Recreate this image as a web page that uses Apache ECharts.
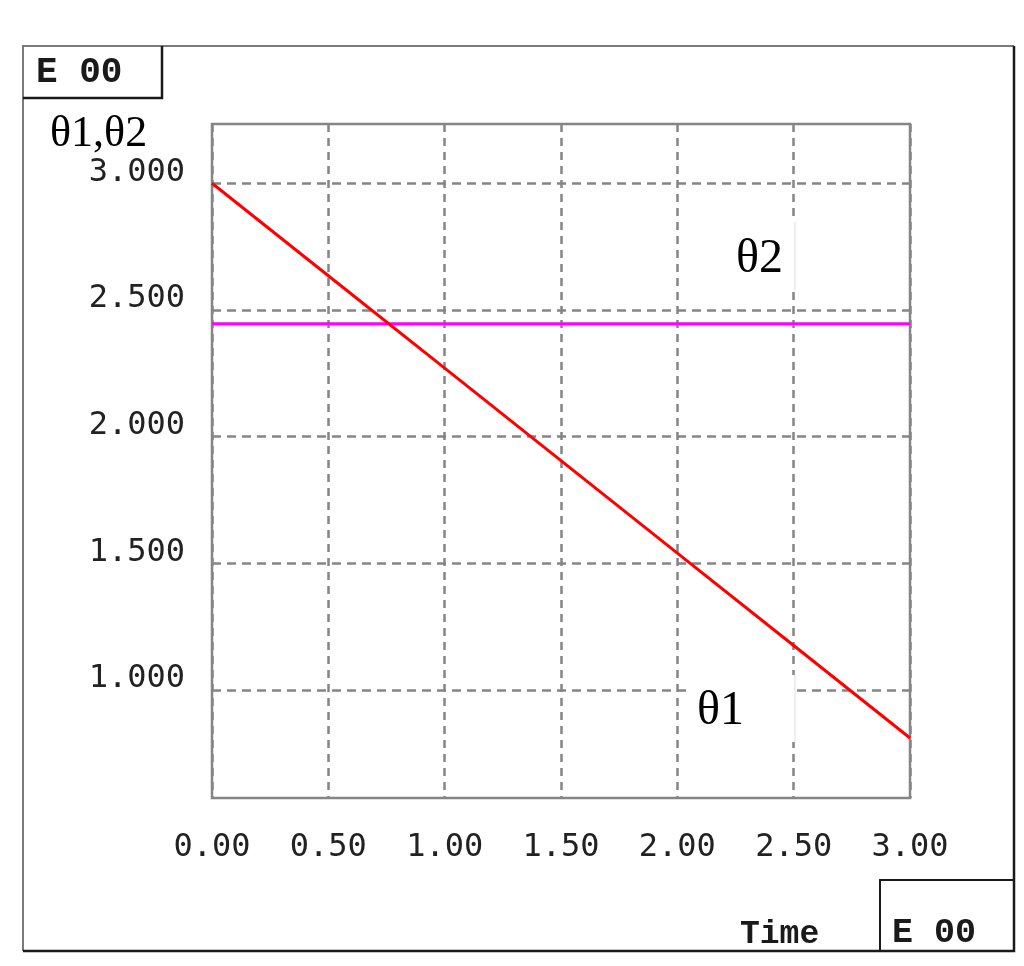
<!DOCTYPE html>
<html><head><meta charset="utf-8">
<script src="https://cdn.jsdelivr.net/npm/echarts@6/dist/echarts.min.js"></script>
<style>html,body{margin:0;padding:0;background:#fff}#c{width:1024px;height:966px}</style>
</head><body><div id="c"></div>
<script>
// ---- data ----
const timeValues = [0.0, 0.5, 1.0, 1.5, 2.0, 2.5, 3.0];
const theta1 = [3.000, 2.635, 2.270, 1.905, 1.540, 1.175, 0.810];
const theta2 = [2.445, 2.445, 2.445, 2.445, 2.445, 2.445, 2.445];
const xTicks = [0.0, 0.5, 1.0, 1.5, 2.0, 2.5, 3.0];
const yTicks = [1.0, 1.5, 2.0, 2.5, 3.0];
const xRange = [0, 3];
const yRange = [0.573, 3.234];
const yTitle = 'θ1,θ2';
const xTitle = 'Time';
const expText = 'E 00';
const seriesNames = ['θ1', 'θ2'];

const chart = echarts.init(document.getElementById('c'));
const monoFont = '"DejaVu Sans Mono", "Liberation Mono", monospace';
const courier = '"Liberation Mono", "DejaVu Sans Mono", monospace';
const serif = '"Liberation Serif", "DejaVu Serif", serif';
const gridColor = '#858585';

chart.setOption({
  backgroundColor: '#ffffff',
  animation: false,
  grid: {
    left: 212, right: 114, top: 124, bottom: 168,
    show: true, borderColor: gridColor, borderWidth: 2.5,
    outerBoundsMode: 'none', containLabel: false
  },
  xAxis: {
    type: 'value', min: xRange[0], max: xRange[1],
    axisLine: { show: false },
    axisTick: { show: false, customValues: xTicks },
    axisLabel: {
      customValues: xTicks,
      formatter: v => v.toFixed(2),
      fontFamily: monoFont, fontSize: 32, color: '#222',
      margin: 34, verticalAlign: 'top'
    },
    splitLine: { show: true, lineStyle: { color: gridColor, width: 2.5, type: [8, 6] } }
  },
  yAxis: {
    type: 'value', min: yRange[0], max: yRange[1],
    axisLine: { show: false },
    axisTick: { show: false, customValues: yTicks },
    axisLabel: {
      customValues: yTicks,
      formatter: v => v.toFixed(3),
      fontFamily: monoFont, fontSize: 32, color: '#222',
      margin: 27, verticalAlign: 'bottom', lineHeight: 22
    },
    splitLine: { show: true, lineStyle: { color: gridColor, width: 2.5, type: [9, 6] } }
  },
  series: [
    {
      name: seriesNames[0], type: 'line', showSymbol: false, z: 5,
      data: timeValues.map((t, i) => [t, theta1[i]]),
      lineStyle: { color: '#ff0000', width: 3 }
    },
    {
      name: seriesNames[1], type: 'line', showSymbol: false, z: 4,
      data: timeValues.map((t, i) => [t, theta2[i]]),
      lineStyle: { color: '#ff00ff', width: 3 }
    }
  ],
  graphic: [
    // outer frame
    { type: 'polyline', z: 50, shape: { points: [[23, 951], [23, 46], [1014, 46]] }, style: { stroke: '#7a7a7a', lineWidth: 2, fill: null } },
    { type: 'polyline', z: 50, shape: { points: [[1014, 46], [1014, 951], [23, 951]] }, style: { stroke: '#1a1a1a', lineWidth: 2.5, fill: null } },
    // top-left exponent box
    { type: 'polyline', z: 50, shape: { points: [[162, 46], [162, 98], [23, 98]] }, style: { stroke: '#1a1a1a', lineWidth: 2.5, fill: null } },
    { type: 'text', z: 50, style: { text: expText, x: 36, y: 73, font: 'bold 36px ' + courier, fill: '#1a1a1a', verticalAlign: 'middle' } },
    // bottom-right exponent box
    { type: 'polyline', z: 50, shape: { points: [[880, 951], [880, 880], [1014, 880]] }, style: { stroke: '#1a1a1a', lineWidth: 2, fill: null } },
    { type: 'text', z: 50, style: { text: expText, x: 892, y: 933, font: 'bold 35px ' + courier, fill: '#1a1a1a', verticalAlign: 'middle' } },
    // x title
    { type: 'text', z: 50, style: { text: xTitle, x: 740, y: 935, font: 'bold 33px ' + courier, fill: '#1a1a1a', verticalAlign: 'middle' } },
    // y title
    { type: 'text', z: 50, style: { text: yTitle, x: 50, y: 134, font: '44px ' + serif, fill: '#000', verticalAlign: 'middle' } },
    // series annotations with white boxes
    { type: 'rect', z: 60, shape: { x: 720, y: 222, width: 75, height: 68 }, style: { fill: '#fff' } },
    { type: 'line', z: 61, shape: { x1: 795, y1: 222, x2: 795, y2: 290 }, style: { stroke: '#dddddd', lineWidth: 1 } },
    { type: 'text', z: 62, style: { text: seriesNames[1], x: 736, y: 259, font: '48px ' + serif, fill: '#000', verticalAlign: 'middle' } },
    { type: 'rect', z: 60, shape: { x: 690, y: 675, width: 105, height: 67 }, style: { fill: '#fff' } },
    { type: 'line', z: 61, shape: { x1: 795, y1: 675, x2: 795, y2: 742 }, style: { stroke: '#dddddd', lineWidth: 1 } },
    { type: 'text', z: 62, style: { text: seriesNames[0], x: 697, y: 711, font: '48px ' + serif, fill: '#000', verticalAlign: 'middle' } }
  ]
});
</script>
</body></html>
